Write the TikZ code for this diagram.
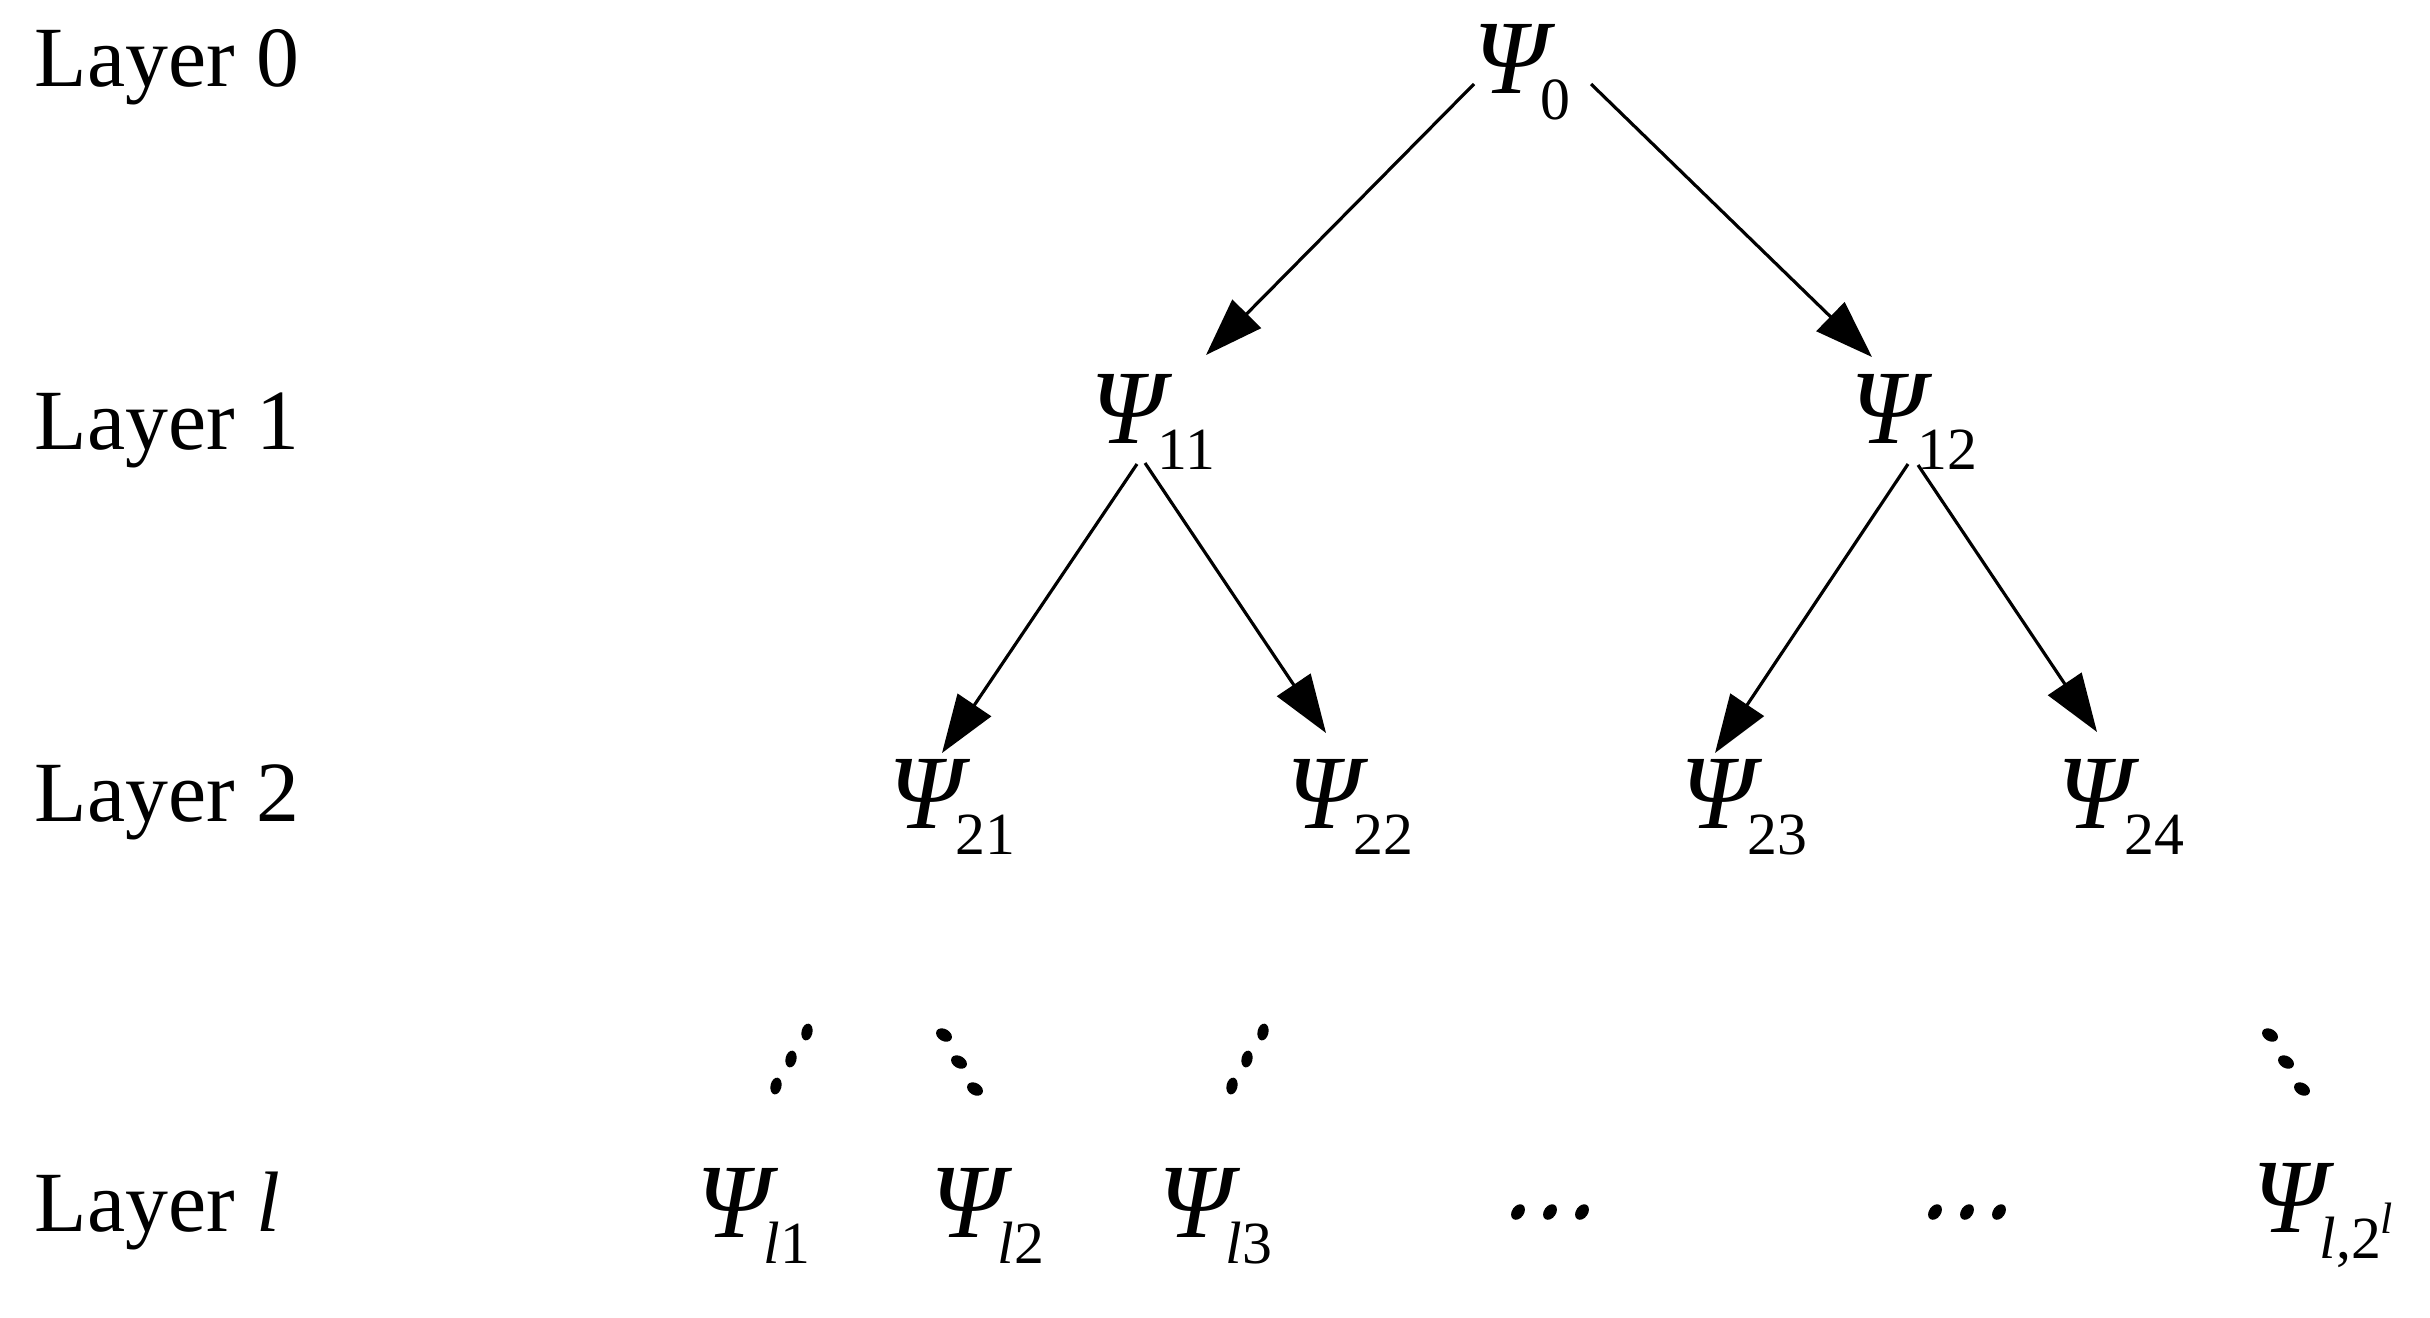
\documentclass[tikz,border=0pt]{standalone}
\usepackage{fontspec}
\setmainfont{Liberation Serif}
\usetikzlibrary{arrows.meta}

\newcommand{\layerfont}{\fontsize{24.4}{29}\selectfont}
\newcommand{\psifont}{\fontsize{30}{35}\selectfont}
\newcommand{\subfont}{\fontsize{17}{20}\selectfont}
\newcommand{\Psin}[1]{\kern-0.1em\textit{Ψ}\kern-0.14em\raisebox{-0.25em}{\subfont #1}}

\tikzset{
    layer/.style = {anchor=base west, inner sep=0pt, font=\layerfont},
    psi/.style = {anchor=base west, inner sep=0pt, font=\psifont},
    arr/.style = {line width=0.9pt, -{Triangle[length=5.8mm, width=4mm]}},
}

\begin{document}
\begin{tikzpicture}[x=0.01cm, y=-0.01cm]
    \useasboundingbox (0,0) rectangle (2430,1317);
    % layer labels
    \node[layer] (lay0) at (34,86) {Layer 0};
    \node[layer] (lay1) at (34,449) {Layer 1};
    \node[layer] (lay2) at (34,821) {Layer 2};
    \node[layer] (layl) at (34,1231) {Layer \textit{l}};
    % tree
    \node[psi] (psi0) at (1483,93) {\Psin{0}};
    \node[psi] (psi11) at (1100,443) {\Psin{11}};
    \node[psi] (psi12) at (1860,443) {\Psin{12}};
    \node[psi] (psi21) at (898,828) {\Psin{21}};
    \node[psi] (psi22) at (1296,828) {\Psin{22}};
    \node[psi] (psi23) at (1690,828) {\Psin{23}};
    \node[psi] (psi24) at (2067,828) {\Psin{24}};
    % last layer
    \node[psi] (psil1) at (706,1237) {\Psin{\textit{l}1}};
    \node[psi] (psil2) at (940,1237) {\Psin{\textit{l}2}};
    \node[psi] (psil3) at (1168,1237) {\Psin{\textit{l}3}};
    \node[psi] (psiln) at (2262,1232) {\Psin{\textit{l},2\raisebox{0.42em}{\fontsize{12.5}{14}\selectfont\textit{l}}}};

    \draw[arr] ([shift={(-9,-9)}]psi0.base west) -- ([shift={(106,-88)}]psi11.base west);
    \draw[arr] ([shift={(108,-9)}]psi0.base west) -- ([shift={(12,-86)}]psi12.base west);
    \draw[arr] ([shift={(37,21)}]psi11.base west) -- ([shift={(44,-75)}]psi21.base west);
    \draw[arr] ([shift={(45,20)}]psi11.base west) -- ([shift={(30,-95)}]psi22.base west);
    \draw[arr] ([shift={(48,21)}]psi12.base west) -- ([shift={(25,-75)}]psi23.base west);
    \draw[arr] ([shift={(58,22)}]psi12.base west) -- ([shift={(30,-96)}]psi24.base west);

    % dots
    \foreach \x/\y in {807/1032, 791/1059, 776/1086, 1263/1032, 1247/1059, 1232/1086}
        \fill[shift={(\x,\y)}, rotate=-12] (0,0) ellipse [x radius=0.055cm, y radius=0.085cm];
    \foreach \x/\y in {944/1035, 959/1062, 975/1089, 2270/1035, 2286/1062, 2302/1089}
        \fill[shift={(\x,\y)}, rotate=-30] (0,0) ellipse [x radius=0.085cm, y radius=0.06cm];
    \foreach \x in {1518, 1550, 1582, 1935, 1967, 1999}
        \fill[shift={(\x,1212)}, rotate=55] (0,0) ellipse [x radius=0.085cm, y radius=0.06cm];
\end{tikzpicture}
\end{document}
